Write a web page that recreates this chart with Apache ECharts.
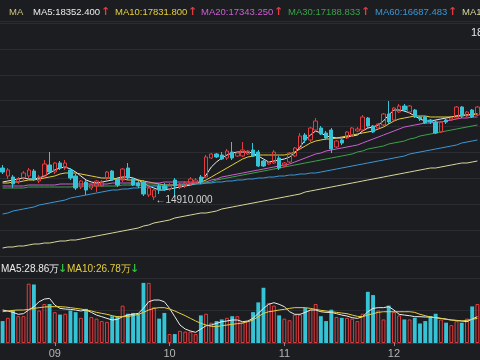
<!DOCTYPE html>
<html><head><meta charset="utf-8">
<script src="https://cdn.jsdelivr.net/npm/echarts/dist/echarts.min.js"></script>
<style>html,body{margin:0;padding:0;background:#1c1d21;}#c{width:480px;height:360px;}</style>
</head><body><div id="c"></div>
<script>
// ---- categories (trading days) ----
const monthKeys = ['08','09','10','11','12'];
const daysAug = [18,21,22,23,24,25,28,29,30,31];
const daysSep = [1,4,5,6,7,8,11,12,13,14,15,18,19,20,21,22,25,26,27,28,29,30];
const daysOct = [2,3,4,5,6,9,10,11,12,13,16,17,18,19,20,23,24,25,26,27,30,31];
const daysNov = [1,2,3,6,7,8,9,10,13,14,15,16,17,20,21,22,24,27,28,29,30];
const daysDec = [1,4,5,6,7,8,11,12,13,14,15,18,19,20,21,22,26];

// ---- candles: [open, close, lowest, highest] ----
const ohlc = [
[16190,16030,15950,16310],[15870,16110,15750,16190],[15830,15550,15390,15910],[15630,15750,15550,15830],[15790,15990,15710,16070],
[15870,16110,15790,16190],[16070,15750,15670,16150],[15670,15830,15590,15910],[15870,16350,15790,16510],[16310,16030,15950,16830],
[16030,16390,15950,16430],[16390,16190,16110,16470],[16190,16390,16110,16510],[16110,15790,15710,16190],[15870,15390,15310,15950],
[15430,15670,15350,15710],[15630,15310,15110,15710],[15390,15510,15310,15550],[15470,15670,15230,15710],[15470,15630,15430,15710],
[15790,16030,15710,16070],[16070,15710,15670,16110],[15750,15510,15430,15790],[15710,16150,15630,16190],[16190,15790,15710,16390],
[15750,15510,15470,15830],[15590,15470,15390,15670],[15630,15150,15070,15710],[15110,15390,15030,15470],[15030,15310,14910,15350],
[15470,15310,15150,15550],[15470,15350,15270,15590],[15350,15510,15270,15590],[15710,15470,15030,15790],[15430,15550,15350,15590],
[15470,15590,15390,15670],[15590,15750,15510,15830],[15590,15710,15510,15790],[15830,15630,15550,15910],[15830,16630,15790,16710],
[16590,16750,16550,16790],[16750,16630,16590,16790],[16710,16550,16510,16830],[16590,16870,16510,16950],[16830,16590,16510,17230],
[16670,16790,16630,16830],[16670,16910,16630,17230],[16750,16870,16710,16910],[16910,16670,16630,17190],[16830,16270,16230,16910],
[16470,16270,16230,16510],[16350,16430,16310,16470],[16390,16830,16350,16910],[16590,16190,16110,16670],[16270,16390,16230,16430],
[16430,16790,16390,16830],[16670,16990,16630,17030],[16990,17470,16950,17590],[17510,17310,17190,17590],[17310,17790,17230,17830],
[17710,18070,17670,18190],[17790,17550,17510,17870],[17590,17390,17310,17670],[17710,16950,16790,17790],[17030,17270,16990,17310],
[17310,17190,17110,17350],[17390,17630,17350,17670],[17470,17790,17430,17830],[17670,17750,17630,17830],[17710,18230,17670,18310],
[18190,17870,17790,18230],[17870,17630,17590,17910],[17790,17950,17750,17990],[17910,18350,17870,18390],[18350,18030,17950,18870],
[18110,18590,18070,18630],[18430,18670,18390,18750],[18670,18510,18430,18750],[18430,18670,18390,18710],[18510,18230,18190,18550],
[18230,18150,18070,18270],[18230,17990,17950,18270],[18110,18030,17950,18150],[18030,17590,17550,18110],[17630,18030,17590,18070],
[18110,18030,17950,18150],[18110,18190,18070,18230],[18190,18630,18150,18670],[18630,18270,18190,18670],[18270,18430,18230,18470],
[18510,18230,18190,18550],[18310,18630,18270,18670]
];

const ma5 = [15630,15670,15710,15750,15790,15750,15750,15790,15870,15990,
16110,16190,16230,16150,16030,15870,15710,15630,15590,15630,
15670,15710,15790,15830,15830,15790,15710,15590,15470,15390,
15310,15310,15350,15390,15430,15470,15510,15550,15670,15910,
16230,16430,16590,16710,16790,16830,16830,16830,16790,16670,
16550,16430,16470,16510,16550,16630,16790,17030,17310,17510,
17670,17590,17470,17430,17390,17390,17430,17470,17510,17670,
17790,17830,17910,18070,18310,18510,18510,18470,18390,18270,
18150,18070,18070,18110,18150,18190,18230,18270,18310,18310,18350,18350];

const ma10 = [15590,15590,15630,15630,15670,15710,15710,15750,15790,15830,
15870,15950,15990,15990,15990,15950,15910,15870,15830,15790,
15790,15790,15750,15750,15710,15710,15710,15670,15630,15590,
15550,15510,15510,15510,15510,15510,15550,15590,15630,15710,
15830,15950,16070,16190,16310,16430,16550,16630,16670,16710,
16710,16710,16710,16710,16710,16750,16830,16950,17070,17190,
17270,17310,17350,17350,17390,17430,17470,17510,17550,17590,
17630,17670,17750,17830,17950,18070,18150,18190,18230,18270,
18270,18270,18230,18230,18230,18230,18230,18270,18270,18310,18310,18350];

const ma20 = [15470,15470,15470,15470,15470,15510,15510,15510,15510,15510,
15510,15550,15550,15550,15550,15550,15550,15550,15550,15550,
15550,15590,15590,15590,15590,15590,15590,15590,15590,15590,
15590,15630,15630,15630,15630,15630,15630,15630,15630,15630,
15710,15750,15830,15870,15910,15950,15990,16030,16070,16110,
16150,16190,16230,16270,16310,16350,16430,16510,16590,16670,
16750,16790,16870,16910,16950,16990,17030,17070,17110,17190,
17270,17350,17430,17510,17590,17670,17750,17830,17870,17910,
17950,17990,17990,18030,18030,18070,18110,18150,18190,18190,18230,18230];

const ma30 = [15390,15390,15390,15390,15390,15430,15430,15430,15430,15430,
15430,15430,15430,15430,15470,15470,15470,15470,15470,15470,
15470,15470,15470,15510,15510,15510,15510,15510,15510,15510,
15510,15510,15510,15510,15550,15550,15550,15550,15590,15590,
15630,15710,15750,15790,15830,15870,15910,15950,15990,16030,
16070,16110,16150,16190,16230,16270,16310,16350,16390,16430,
16470,16510,16550,16590,16630,16670,16710,16750,16830,16870,
16950,16990,17030,17070,17150,17190,17230,17270,17350,17390,
17470,17510,17550,17590,17630,17670,17710,17750,17790,17830,17870,17910];

const ma60 = [14350,14390,14470,14510,14550,14590,14630,14710,14750,14790,
14830,14870,14910,14990,15030,15070,15110,15150,15190,15230,
15270,15310,15310,15350,15350,15390,15390,15430,15430,15470,
15470,15470,15470,15510,15510,15510,15550,15550,15550,15590,
15590,15630,15630,15670,15670,15710,15710,15750,15750,15790,
15790,15830,15830,15870,15870,15910,15910,15950,15950,15990,
15990,16030,16070,16110,16150,16190,16230,16270,16310,16350,
16390,16430,16470,16510,16550,16590,16630,16670,16750,16790,
16830,16870,16910,16950,16990,17030,17070,17110,17190,17230,17270,17310];

const ma120 = [12990,13030,13030,13070,13070,13110,13150,13150,13190,13190,
13230,13270,13270,13310,13310,13350,13390,13430,13470,13510,
13550,13590,13630,13670,13710,13750,13790,13870,13910,13990,
14030,14070,14110,14190,14230,14270,14310,14350,14390,14390,
14430,14470,14550,14590,14630,14670,14710,14750,14790,14830,
14870,14910,14950,14990,15030,15070,15110,15150,15230,15270,
15310,15350,15390,15430,15470,15510,15550,15590,15630,15670,
15710,15750,15790,15830,15870,15910,15950,15990,16030,16070,
16110,16150,16190,16190,16230,16270,16310,16350,16390,16390,16430,16470];

// ---- volume (万) ----
const volumes = [27,31,40,33,33,73,72,40,48,48,
38,35,36,40,38,31,42,32,30,27,
26,33,33,46,36,37,36,74,74,44,
30,37,11,11,15,14,14,11,34,36,
25,27,29,31,33,33,25,27,38,50,
68,49,46,34,30,28,35,35,43,41,
48,33,27,41,32,31,31,30,27,36,
63,59,40,29,46,38,34,29,29,31,
24,27,33,36,29,25,22,27,25,30,45,48];

const volMa5 = [40.6,39.4,37.7,35.3,36.1,40.6,44.7,50.8,54.1,54.9,
46.7,42.6,41.8,41.4,40.6,39.4,40.6,37.7,34.4,32.4,
30.3,28.3,29.1,32.4,34.4,35.3,36.5,42.6,50.8,52.9,
52.9,50.8,42.6,32.4,22.1,17.2,14.8,13.1,17.2,21.3,
22.1,24.2,26.2,27.1,28.3,28.3,26.2,27.1,30.3,36.5,
42.6,47.6,49.6,47.6,44.7,38.5,35.3,35.3,37.7,40.6,
40.6,38.5,37.7,37.7,36.1,34.4,33.2,31.2,30.3,32.4,
38.5,42.6,43.5,43.5,44.7,40.6,35.3,34.4,33.6,32.4,
32.4,32.0,32.0,31.2,30.3,29.5,28.3,27.9,27.1,26.2,29.5,32.4];

const volMa10 = [38.5,39.4,40.2,40.6,40.6,41.4,42.6,43.5,44.3,44.7,
44.7,44.7,44.3,43.5,42.6,41.8,40.6,39.4,37.7,36.5,
35.3,33.6,32.4,32.4,32.8,33.6,35.3,37.7,40.6,42.6,
43.5,43.5,41.8,39.4,36.5,33.6,30.3,27.1,24.2,22.1,
20.5,20.1,21.3,22.1,23.0,23.8,24.6,26.2,28.3,32.4,
36.5,38.5,39.4,40.6,41.4,42.6,43.5,43.5,43.5,42.6,
41.4,40.2,39.4,38.5,37.7,36.9,36.1,34.4,32.8,32.4,
34.4,36.1,37.7,38.5,38.5,38.5,38.5,38.5,38.5,37.7,
35.3,33.6,32.0,31.2,30.3,29.1,28.3,27.5,27.1,27.9,29.1,30.3];

// ---- legend texts ----
const legendItems = [
  {text:'MA', x:9},
  {text:'MA5:18352.400', x:33, arrowX:101},
  {text:'MA10:17831.800', x:115, arrowX:188},
  {text:'MA20:17343.250', x:201, arrowX:274},
  {text:'MA30:17188.833', x:288, arrowX:361},
  {text:'MA60:16687.483', x:375, arrowX:448},
  {text:'MA120:15830.000', x:462, arrowX:541}
];
const volLegendItems = [
  {text:'MA5:28.86万', x:1, arrowX:58},
  {text:'MA10:26.78万', x:67, arrowX:130}
];
const topRightLabel = '18870.000';

// ---- build ----
const dayLists = [daysAug, daysSep, daysOct, daysNov, daysDec];
const categories = [];
dayLists.forEach((ds, mi) => ds.forEach(d => categories.push('2023-' + monthKeys[mi] + '-' + String(d).padStart(2,'0'))));

const RED = '#e23b3e', CYAN = '#35c3d5', BG = '#1c1d21', GRID = '#2b2c31';
const FONT = '"Liberation Sans", Arial, sans-serif';
const ARROW_FONT = 'bold 11px "DejaVu Sans", sans-serif';
const lineColors = {ma:'#cfc57a', ma5:'#ececec', ma10:'#e6cf3c', ma20:'#cc5fd3', ma30:'#3ba24a', ma60:'#3a97d6', ma120:'#d8d69a'};
const legendColors = [lineColors.ma, lineColors.ma5, lineColors.ma10, lineColors.ma20, lineColors.ma30, lineColors.ma60, lineColors.ma120];
const monthStart = (idx) => idx > 0 && categories[idx].slice(5,7) !== categories[idx-1].slice(5,7);

const volData = volumes.map((v, i) => {
  const up = ohlc[i][1] >= ohlc[i][0];
  return {value: v, itemStyle: up ? {color: 'rgba(0,0,0,0)', borderColor: RED, borderWidth: 1} : {color: CYAN, borderColor: CYAN, borderWidth: 0}};
});

const graphics = [
  {type:'line', shape:{x1:0, y1:21.5, x2:480, y2:21.5}, style:{stroke:GRID, lineWidth:1}, silent:true},
  {type:'text', x:471, y:33, style:{text: topRightLabel, fill:'#e6e6e6', font:'11px ' + FONT, verticalAlign:'middle'}}
];
legendItems.forEach((it, k) => {
  graphics.push({type:'text', x: it.x, y: 12.5, style:{text: it.text, fill: legendColors[k], font: '9.5px ' + FONT, verticalAlign:'middle'}});
  if (it.arrowX !== undefined) graphics.push({type:'text', x: it.arrowX, y: 12, z: 10, style:{text:'↑', fill: RED, font: ARROW_FONT, verticalAlign:'middle'}});
});
const volLegendColors = ['#ececec', '#e6cf3c'];
volLegendItems.forEach((it, k) => {
  graphics.push({type:'text', x: it.x, y: 269, style:{text: it.text, fill: volLegendColors[k], font: '10px ' + FONT, verticalAlign:'middle'}});
  graphics.push({type:'text', x: it.arrowX, y: 269, z: 10, style:{text:'↓', fill: '#2fbf3f', font: ARROW_FONT, verticalAlign:'middle'}});
});

const maLine = (name, data, color) => ({
  name, type:'line', data, xAxisIndex:0, yAxisIndex:0, symbol:'none', smooth:false,
  lineStyle:{width:1, color}, itemStyle:{color}, z:3, silent:true
});

const option = {
  backgroundColor: BG,
  animation: false,
  grid: [
    {left:0, right:0, top:23, height:233},
    {left:0, right:0, top:278, height:65}
  ],
  xAxis: [
    {type:'category', data:categories, gridIndex:0, boundaryGap:true,
     axisLine:{show:false}, axisTick:{show:false}, axisLabel:{show:false}, splitLine:{show:false}},
    {type:'category', data:categories, gridIndex:1, boundaryGap:true,
     axisLine:{show:true, lineStyle:{color:'#34353b'}},
     axisTick:{show:true, alignWithLabel:true, interval: monthStart, length:3, lineStyle:{color:'#8a8a8a'}},
     axisLabel:{show:true, interval: monthStart, formatter: v => v.slice(5,7), color:'#b4b4b4', fontSize:11, fontFamily:FONT, margin:5},
     splitLine:{show:false}}
  ],
  yAxis: [
    {type:'value', gridIndex:0, min:12670, max:21990, interval:(21990-12670)/9, scale:false,
     axisLine:{show:false}, axisTick:{show:false}, axisLabel:{show:false},
     splitLine:{show:true, lineStyle:{color:GRID, width:1}}},
    {type:'value', gridIndex:1, min:0, max:80, interval:40,
     axisLine:{show:false}, axisTick:{show:false}, axisLabel:{show:false},
     splitLine:{show:true, lineStyle:{color:GRID, width:1}}}
  ],
  graphic: graphics,
  series: [
    {name:'K', type:'candlestick', data: ohlc, xAxisIndex:0, yAxisIndex:0, barWidth:'74%',
     itemStyle:{color:'rgba(0,0,0,0)', color0:CYAN, borderColor:RED, borderColor0:CYAN, borderWidth:1},
     markPoint:{symbol:'circle', symbolSize:1, itemStyle:{color:'rgba(0,0,0,0)'},
       label:{show:true, position:'right', distance:1, color:'#d2d2d2', fontSize:10, fontFamily:FONT,
              formatter: p => '←' + Number(p.value).toFixed(3)},
       data:[{type:'min', valueDim:'lowest'}]},
     z:4, silent:true},
    maLine('MA5', ma5, lineColors.ma5),
    maLine('MA10', ma10, lineColors.ma10),
    maLine('MA20', ma20, lineColors.ma20),
    maLine('MA30', ma30, lineColors.ma30),
    maLine('MA60', ma60, lineColors.ma60),
    maLine('MA120', ma120, lineColors.ma120),
    {name:'VOL', type:'bar', data: volData, xAxisIndex:1, yAxisIndex:1, barWidth:'74%', silent:true},
    {name:'VMA5', type:'line', data: volMa5, xAxisIndex:1, yAxisIndex:1, symbol:'none', lineStyle:{width:1, color:'#ececec'}, z:3, silent:true},
    {name:'VMA10', type:'line', data: volMa10, xAxisIndex:1, yAxisIndex:1, symbol:'none', lineStyle:{width:1, color:'#e6cf3c'}, z:3, silent:true}
  ]
};
const chart = echarts.init(document.getElementById('c'), null, {renderer:'canvas'});
chart.setOption(option);
</script>
</body></html>
